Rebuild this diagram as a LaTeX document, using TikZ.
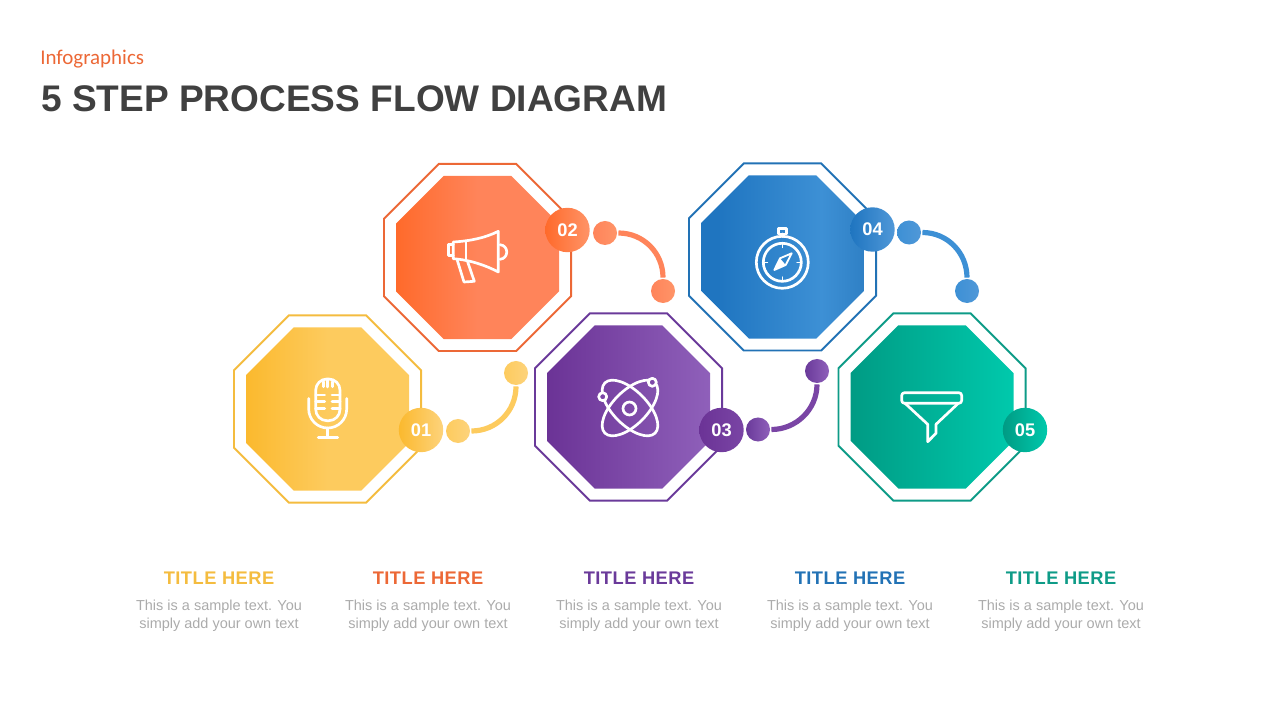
\documentclass[tikz,border=0pt]{standalone}
\usepackage{fontspec}
\setmainfont{Liberation Sans}
\newfontfamily\infofont{Carlito}
\newfontfamily\headfont[LetterSpace=2.6]{Liberation Sans}
\usetikzlibrary{positioning,shapes.geometric}
\definecolor{yelA}{HTML}{FBB92E}
\definecolor{yelB}{HTML}{FDCB5E}
\definecolor{yelC}{HTML}{FDD37C}
\definecolor{yelT}{HTML}{F4BC3F}
\definecolor{orgA}{HTML}{FF6A2B}
\definecolor{orgB}{HTML}{FF845A}
\definecolor{orgC}{HTML}{FF9468}
\definecolor{orgT}{HTML}{EC6836}
\definecolor{purA}{HTML}{6B3396}
\definecolor{purB}{HTML}{8F60BA}
\definecolor{purC}{HTML}{7A45A5}
\definecolor{purT}{HTML}{6A3A9A}
\definecolor{bluA}{HTML}{1F75C0}
\definecolor{bluB}{HTML}{3D90D5}
\definecolor{bluC}{HTML}{5098D8}
\definecolor{bluD}{HTML}{2F80C5}
\definecolor{bluT}{HTML}{2272B5}
\definecolor{grnA}{HTML}{009B84}
\definecolor{grnB}{HTML}{00C9AC}
\definecolor{grnT}{HTML}{0E9B87}
\pgfdeclarehorizontalshading{bluefade}{100bp}{color(0bp)=(bluA); color(30bp)=(bluA); color(62bp)=(bluB); color(75bp)=(bluD); color(100bp)=(bluD)}
\begin{document}
\begin{tikzpicture}[x=0.025cm, y=-0.025cm,
    ring/.style={regular polygon, regular polygon sides=8, inner sep=0pt, minimum size=5.06cm, line width=1.4pt},
    core/.style={regular polygon, regular polygon sides=8, inner sep=0pt, minimum size=4.41cm},
    badge/.style={circle, inner sep=0pt, minimum size=1.11cm, text=white, font=\fontsize{13}{15}\selectfont\bfseries},
    ball/.style={circle, inner sep=0pt, minimum size=0.6cm},
    link/.style={line width=3.7pt, shorten <=0.8pt, shorten >=0.8pt},
    icon/.style={draw=white, line width=1.9pt, line join=round, line cap=round},
    head/.style={font=\fontsize{13}{16}\headfont\bfseries, inner sep=0pt},
    desc/.style={font=\fontsize{10.3}{12.8}\selectfont, text=black!33, align=center, inner sep=0pt}]
    \useasboundingbox (0,0) rectangle (1280,720);

    \node[anchor=base west, inner sep=0pt, text=orgT, font=\fontsize{14.9}{17}\infofont] (kicker) at (40,64.5) {Infographics};
    \node[anchor=base west, inner sep=0pt, text=black!75, font=\fontsize{26.35}{30}\selectfont\bfseries] (title) at (41,112) {5 STEP PROCESS FLOW DIAGRAM};

    \node[ring, draw=yelT] (ring1) at (327.5,409) {};
    \node[ring, draw=orgT] (ring2) at (477.5,257.5) {};
    \node[ring, draw=purT] (ring3) at (628.5,407) {};
    \node[ring, draw=bluT] (ring4) at (782.5,257) {};
    \node[ring, draw=grnT] (ring5) at (932,407) {};

    \node[core, left color=yelA, right color=yelB, middle color=yelB] (core1) at (ring1) {};
    \node[core, left color=orgA, right color=orgB, middle color=orgB] (core2) at (ring2) {};
    \node[core, left color=purA, right color=purB] (core3) at (ring3) {};
    \node[core, shading=bluefade] (core4) at (ring4) {};
    \node[core, left color=grnA, right color=grnB] (core5) at (ring5) {};

    \node[badge, left color=yelA, right color=yelC] (badge1) at (421,430) {01};
    \node[badge, left color=orgA, right color=orgC] (badge2) at (567.5,230) {02};
    \node[badge, left color=purA, right color=purC] (badge3) at (721.5,430) {03};
    \node[badge, left color=bluA, right color=bluC] (badge4) at (872.5,229.5) {04};
    \node[badge, left color=grnA, right color=grnB] (badge5) at (1025,430) {05};

    \node[ball, left color=yelB, right color=yelC] (start1) at (458,431) {};
    \node[ball, left color=yelB, right color=yelC] (end1) at (516,373) {};
    \node[ball, left color=orgB, right color=orgC] (start2) at (605,233) {};
    \node[ball, left color=orgB, right color=orgC] (end2) at (663,291) {};
    \node[ball, left color=purT, right color=purB] (start3) at (758,429.5) {};
    \node[ball, left color=purT, right color=purB] (end3) at (817,371) {};
    \node[ball, left color=bluB, right color=bluC] (start4) at (909,232.5) {};
    \node[ball, left color=bluB, right color=bluC] (end4) at (967,291) {};

    \draw[link, yelB] (start1.east) .. controls +(26,0) and +(0,26) .. (end1.south);
    \draw[link, orgB] (start2.east) .. controls +(26,0) and +(0,-26) .. (end2.north);
    \draw[link, purC] (start3.east) .. controls +(26,0) and +(0,26) .. (end3.south);
    \draw[link, bluB] (start4.east) .. controls +(26,0) and +(0,-26) .. (end4.north);

    \draw[icon, rounded corners=8pt] (315.7,379) rectangle (340,420.7);
    \draw[icon] (315.7,395) -- ++(9,0) (315.7,401.7) -- ++(9,0) (315.7,408.3) -- ++(9,0);
    \draw[icon] (340,395) -- ++(-8,0) (340,401.7) -- ++(-8,0) (340,408.3) -- ++(-8,0);
    \draw[icon] (323.3,381.7) -- ++(0,5) (327.7,380) -- ++(0,7) (332.3,381.7) -- ++(0,5);
    \draw[icon] (308.7,398.5) -- (308.7,409) arc[start angle=180, end angle=0, radius=19] -- (346.7,398.5);
    \draw[icon] (327.7,428) -- (327.7,437.3) (318.3,437.3) -- (337.7,437.3);

    \draw[icon] (453.3,242) .. controls (470,241) and (485,238) .. (498.3,231.3) -- (498.3,272) .. controls (485,265) and (470,260) .. (453.3,258.7) -- cycle;
    \draw[icon] (466,240.8) -- (466,260.3);
    \draw[icon] (453.3,244.7) -- (448.3,244.7) -- (448.3,255.8) -- (453.3,255.8);
    \draw[icon] (457.3,260.3) -- (464,282) -- (474.3,281.3) -- (467.7,262);
    \draw[icon] (500,244.7) .. controls (509,245.5) and (509,258.5) .. (500,259.3);

    \draw[icon] (629.5,408.5) circle[radius=6.5];
    \draw[icon, rotate around={45:(630,408)}] (630,408) ellipse[x radius=35.5, y radius=17];
    \draw[icon, rotate around={-45:(630,408)}] (630,408) ellipse[x radius=35.5, y radius=17];
    \draw[icon, fill=purC] (602.7,396.7) circle[radius=4];
    \draw[icon, fill=purC!80!purB] (652.3,382.3) circle[radius=4];

    \draw[icon] (782.3,262.3) circle[radius=26] (782.3,262.3) circle[radius=19];
    \draw[icon] (778.3,228.3) rectangle (786.7,234) (782.3,234) -- (782.3,236.5);
    \draw[icon, line width=1pt] (782.3,244) -- ++(0,3.5) (782.3,280.5) -- ++(0,-3.5) (764,262.3) -- ++(3.5,0) (800.5,262.3) -- ++(-3.5,0);
    \draw[icon, line width=1.3pt] (791.7,253.3) -- (780,258.3) -- (774.3,270) -- (785.7,265) -- cycle;
    \fill[white] (780,258.3) -- (774.3,270) -- (785.7,265) -- cycle;

    \draw[icon, rounded corners=2pt] (901.7,392.7) rectangle (961.7,403.3);
    \draw[icon] (905,403.3) -- (927.7,424.3) -- (927.7,441.7) -- (936,433.3) -- (936,424.3) -- (958.3,403.3);

    \node[head, text=yelT] (head1) at (219,578) {TITLE HERE};
    \node[head, text=orgT] (head2) at (428,578) {TITLE HERE};
    \node[head, text=purT] (head3) at (639,578) {TITLE HERE};
    \node[head, text=bluT] (head4) at (850,578) {TITLE HERE};
    \node[head, text=grnT] (head5) at (1061,578) {TITLE HERE};

    \node[desc, below=10.6pt of head1] (desc1) {This is a sample text. You\\simply add your own text};
    \node[desc, below=10.6pt of head2] (desc2) {This is a sample text. You\\simply add your own text};
    \node[desc, below=10.6pt of head3] (desc3) {This is a sample text. You\\simply add your own text};
    \node[desc, below=10.6pt of head4] (desc4) {This is a sample text. You\\simply add your own text};
    \node[desc, below=10.6pt of head5] (desc5) {This is a sample text. You\\simply add your own text};
\end{tikzpicture}
\end{document}
